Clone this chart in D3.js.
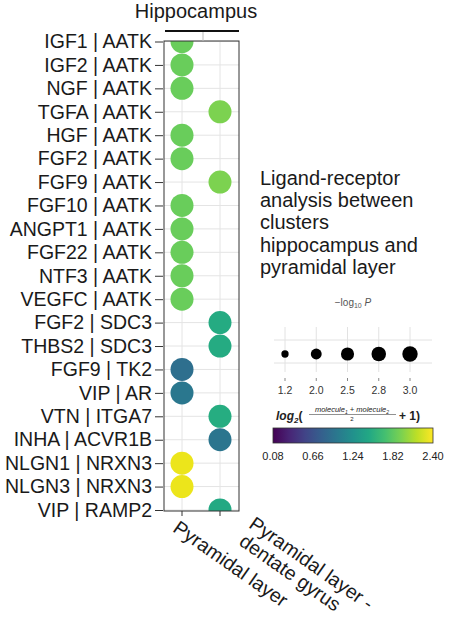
<!DOCTYPE html>
<html>
<head>
<meta charset="utf-8">
<script src="https://cdn.jsdelivr.net/npm/d3@7"></script>
<style>
  body { margin: 0; background: #fff; }
  text { font-family: "Liberation Sans", Arial, sans-serif; }
</style>
</head>
<body>
<div id="chart-area"></div>
<script>
// data
var pairs = ["IGF1 | AATK", "IGF2 | AATK", "NGF | AATK", "TGFA | AATK", "HGF | AATK",
  "FGF2 | AATK", "FGF9 | AATK", "FGF10 | AATK", "ANGPT1 | AATK", "FGF22 | AATK",
  "NTF3 | AATK", "VEGFC | AATK", "FGF2 | SDC3", "THBS2 | SDC3", "FGF9 | TK2",
  "VIP | AR", "VTN | ITGA7", "INHA | ACVR1B", "NLGN1 | NRXN3", "NLGN3 | NRXN3", "VIP | RAMP2"];
var clusters = ["Pyramidal layer", "Pyramidal layer - dentate gyrus"];
var pairCluster = [0, 0, 0, 1, 0, 0, 1, 0, 0, 0, 0, 0, 1, 1, 0, 0, 1, 1, 0, 0, 1];
var meanExpr = [1.87, 1.87, 1.87, 1.94, 1.87, 1.87, 1.94, 1.87, 1.87, 1.87, 1.87, 1.87,
  1.50, 1.50, 0.92, 1.00, 1.52, 0.98, 2.33, 2.33, 1.48];
var negLogP = [3.0, 3.0, 3.0, 3.0, 3.0, 3.0, 3.0, 3.0, 3.0, 3.0, 3.0, 3.0,
  3.0, 3.0, 3.0, 3.0, 3.0, 3.0, 3.0, 3.0, 3.0];
var sizeTicks = [1.2, 2.0, 2.5, 2.8, 3.0];
var colorTicks = [0.08, 0.66, 1.24, 1.82, 2.40];
var groupTitle = "Hippocampus";
var noteLines = ["Ligand-receptor", "analysis between", "clusters", "hippocampus and", "pyramidal layer"];

var data = pairs.map(function(p, i) {
  return { pair: p, cluster: clusters[pairCluster[i]], expr: meanExpr[i], p: negLogP[i] };
});

var width = 449, height = 624;
var plot = { left: 164, right: 239, top: 41, bottom: 511 };

var svg = d3.select("#chart-area")
  .append("svg")
  .attr("width", width)
  .attr("height", height);

var xScale = d3.scalePoint().domain(clusters).range([182, 220]);
var yScale = d3.scalePoint().domain(pairs).range([41.5, 510]);
var rScale = d3.scaleLinear().domain([0, 3]).range([0, 11.5]);
var colorScale = d3.scaleSequential(d3.interpolateViridis).domain([0.08, 2.40]);

// clip for dots
svg.append("clipPath").attr("id", "plot-clip")
  .append("rect")
  .attr("x", plot.left).attr("y", plot.top)
  .attr("width", plot.right - plot.left).attr("height", plot.bottom - plot.top);

// grid
var grid = svg.append("g").attr("class", "grid");
grid.selectAll(".gx").data(clusters).enter().append("line")
  .attr("x1", function(d) { return xScale(d); })
  .attr("x2", function(d) { return xScale(d); })
  .attr("y1", plot.top).attr("y2", plot.bottom)
  .attr("stroke", "#e4e4e4").attr("stroke-width", 1);
grid.selectAll(".gy").data(pairs).enter().append("line")
  .attr("x1", plot.left).attr("x2", plot.right)
  .attr("y1", function(d) { return yScale(d); })
  .attr("y2", function(d) { return yScale(d); })
  .attr("stroke", "#e4e4e4").attr("stroke-width", 1);

// dots
svg.append("g").attr("clip-path", "url(#plot-clip)")
  .selectAll("circle").data(data).enter().append("circle")
  .attr("cx", function(d) { return xScale(d.cluster); })
  .attr("cy", function(d) { return yScale(d.pair); })
  .attr("r", function(d) { return rScale(d.p); })
  .attr("fill", function(d) { return colorScale(d.expr); });

// frame
svg.append("rect")
  .attr("x", plot.left).attr("y", plot.top)
  .attr("width", plot.right - plot.left).attr("height", plot.bottom - plot.top)
  .attr("fill", "none").attr("stroke", "#333").attr("stroke-width", 1);

// y axis
var yAxis = d3.axisLeft(yScale).tickSize(8).tickPadding(3);
var gy = svg.append("g")
  .attr("transform", "translate(" + (plot.left - 1) + ",0)")
  .call(yAxis);
gy.select(".domain").remove();
gy.selectAll("line").attr("stroke", "#333");
gy.selectAll("text")
  .attr("font-size", "19.5px")
  .attr("fill", "#1a1a1a")
  .attr("font-family", "Liberation Sans, Arial, sans-serif");

// x ticks
svg.append("g").selectAll("line").data(clusters).enter().append("line")
  .attr("x1", function(d) { return xScale(d); })
  .attr("x2", function(d) { return xScale(d); })
  .attr("y1", plot.bottom).attr("y2", plot.bottom + 5)
  .attr("stroke", "#333");

// x labels (rotated)
var xLabelLines = [["Pyramidal layer"], ["Pyramidal layer -", "dentate gyrus"]];
var xLabelOffset = [{ x: -2, y: 15 }, { x: 27, y: -10 }];
clusters.forEach(function(c, i) {
  var t = svg.append("text")
    .attr("transform", "translate(" + xScale(c) + "," + (plot.bottom + 8.5) + ") rotate(35)")
    .attr("font-size", "19.5px")
    .attr("fill", "#1a1a1a");
  xLabelLines[i].forEach(function(line, j) {
    t.append("tspan")
      .attr("x", xLabelOffset[i].x + j * 2)
      .attr("y", xLabelOffset[i].y + j * 20)
      .text(line);
  });
});

// group bracket on top
svg.append("text")
  .attr("x", 196).attr("y", 18)
  .attr("text-anchor", "middle")
  .attr("font-size", "20px")
  .attr("fill", "#1a1a1a")
  .text(groupTitle);
svg.append("line")
  .attr("x1", plot.left + 1).attr("x2", plot.right)
  .attr("y1", 31).attr("y2", 31)
  .attr("stroke", "#111").attr("stroke-width", 2);
svg.append("line")
  .attr("x1", 203).attr("x2", 203)
  .attr("y1", 32).attr("y2", plot.top)
  .attr("stroke", "#bbb").attr("stroke-width", 1);

// note text
svg.append("text")
  .attr("font-size", "20px")
  .attr("fill", "#1a1a1a")
  .selectAll("tspan").data(noteLines).enter().append("tspan")
  .attr("x", 260)
  .attr("y", function(d, i) { return 185 + i * 22.2; })
  .text(function(d) { return d; });

// size legend
var legX = d3.scalePoint().domain(sizeTicks).range([285, 410]);
var legR = d3.scaleLinear().domain([1, 3]).range([3.2, 7.7]);
var leg = svg.append("g").attr("class", "size-legend");
var lt = leg.append("text")
  .attr("x", 353).attr("y", 306)
  .attr("text-anchor", "middle")
  .attr("font-size", "10px")
  .attr("fill", "#555");
lt.append("tspan").text("\u2212log");
lt.append("tspan").attr("font-size", "7px").attr("dy", 2).text("10");
lt.append("tspan").attr("dy", -2).attr("font-style", "italic").text(" P");

leg.selectAll(".vg").data(sizeTicks).enter().append("line")
  .attr("x1", function(d) { return legX(d); })
  .attr("x2", function(d) { return legX(d); })
  .attr("y1", 327).attr("y2", 372)
  .attr("stroke", "#e2e2e2");
[340, 363].forEach(function(y) {
  leg.append("line")
    .attr("x1", 274).attr("x2", 432)
    .attr("y1", y).attr("y2", y)
    .attr("stroke", "#e2e2e2");
});
leg.selectAll("circle").data(sizeTicks).enter().append("circle")
  .attr("cx", function(d) { return legX(d); })
  .attr("cy", 354)
  .attr("r", function(d) { return legR(d); })
  .attr("fill", "#000");
leg.selectAll(".tk").data(sizeTicks).enter().append("line")
  .attr("x1", function(d) { return legX(d); })
  .attr("x2", function(d) { return legX(d); })
  .attr("y1", 378).attr("y2", 381)
  .attr("stroke", "#888");
leg.selectAll(".lab").data(sizeTicks).enter().append("text")
  .attr("x", function(d) { return legX(d); })
  .attr("y", 394)
  .attr("text-anchor", "middle")
  .attr("font-size", "10.5px")
  .attr("fill", "#333")
  .text(function(d) { return d.toFixed(1); });

// colorbar
var cbX = d3.scaleLinear().domain([0.08, 2.40]).range([273, 433]);
var grad = svg.append("defs").append("linearGradient").attr("id", "viridis-grad");
d3.range(0, 1.0001, 0.1).forEach(function(t) {
  grad.append("stop")
    .attr("offset", (t * 100) + "%")
    .attr("stop-color", d3.interpolateViridis(t));
});
svg.append("rect")
  .attr("x", cbX(0.08)).attr("y", 428)
  .attr("width", cbX(2.40) - cbX(0.08)).attr("height", 15)
  .attr("fill", "url(#viridis-grad)")
  .attr("stroke", "#333").attr("stroke-width", 0.8);
svg.append("g").selectAll("text").data(colorTicks).enter().append("text")
  .attr("x", function(d) { return cbX(d); })
  .attr("y", 460)
  .attr("text-anchor", "middle")
  .attr("font-size", "11px")
  .attr("fill", "#222")
  .text(function(d) { return d.toFixed(2); });

// colorbar label: log2((molecule1 + molecule2)/2 + 1)
var cl = svg.append("g").attr("class", "cb-label");
var c1 = cl.append("text")
  .attr("x", 276).attr("y", 420)
  .attr("font-size", "12px").attr("font-weight", "bold").attr("font-style", "italic")
  .attr("fill", "#222");
c1.append("tspan").text("log");
c1.append("tspan").attr("font-size", "8px").attr("dy", 3).text("2");
c1.append("tspan").attr("dy", -3).attr("font-style", "normal").text("(");
var num = cl.append("text")
  .attr("x", 352).attr("y", 412)
  .attr("text-anchor", "middle")
  .attr("font-size", "7.5px").attr("font-style", "italic")
  .attr("fill", "#222");
num.append("tspan").text("molecule");
num.append("tspan").attr("font-size", "5px").attr("dy", 1.5).text("1");
num.append("tspan").attr("dy", -1.5).text(" + molecule");
num.append("tspan").attr("font-size", "5px").attr("dy", 1.5).text("2");
cl.append("line")
  .attr("x1", 309).attr("x2", 396)
  .attr("y1", 414.5).attr("y2", 414.5)
  .attr("stroke", "#222").attr("stroke-width", 0.5);
cl.append("text")
  .attr("x", 352).attr("y", 421)
  .attr("text-anchor", "middle")
  .attr("font-size", "6px")
  .attr("fill", "#222")
  .text("2");
cl.append("text")
  .attr("x", 399).attr("y", 420)
  .attr("font-size", "12px").attr("font-weight", "bold")
  .attr("fill", "#222")
  .text("+ 1)");
</script>
</body>
</html>
